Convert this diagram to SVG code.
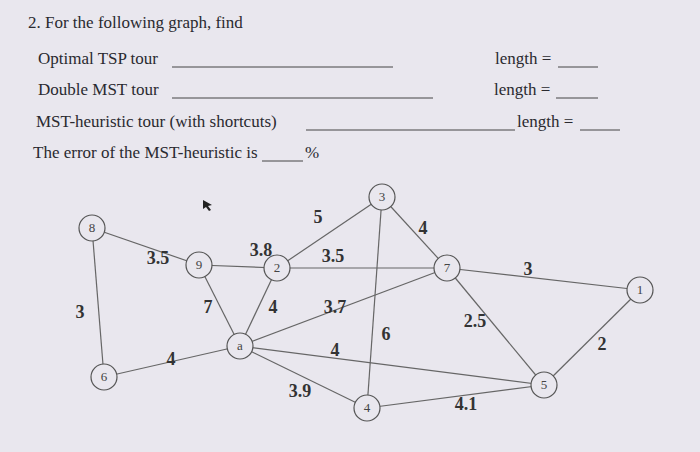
<svg xmlns="http://www.w3.org/2000/svg" width="700" height="452" viewBox="0 0 700 452">
<style>
.t{font-family:"Liberation Serif",serif;font-size:17px;fill:#2a2a30}
.u{stroke:#444;stroke-width:1}
.n circle{fill:#e9e7ee;stroke:#555;stroke-width:1.2}
.n text{font-family:"Liberation Serif",serif;font-size:13px;fill:#444;text-anchor:middle}
#edges line{stroke:#666;stroke-width:1.2}
.w{font-family:"Liberation Serif",serif;font-size:18px;font-weight:bold;fill:#333;text-anchor:middle}
</style>
<rect width="700" height="452" fill="#e9e7ee"/>
<text class="t" x="28" y="28">2. For the following graph, find</text>
<text class="t" x="38" y="64">Optimal TSP tour</text>
<line class="u" x1="172" y1="67" x2="393" y2="67"/>
<text class="t" x="495" y="64">length =</text>
<line class="u" x1="558" y1="67" x2="598" y2="67"/>
<text class="t" x="38" y="95">Double MST tour</text>
<line class="u" x1="172" y1="98" x2="433" y2="98"/>
<text class="t" x="494" y="95">length =</text>
<line class="u" x1="556" y1="98" x2="598" y2="98"/>
<text class="t" x="36" y="127">MST-heuristic tour (with shortcuts)</text>
<line class="u" x1="306" y1="130" x2="515" y2="130"/>
<text class="t" x="517" y="127">length =</text>
<line class="u" x1="580" y1="130" x2="620" y2="130"/>
<text class="t" x="33" y="158">The error of the MST-heuristic is</text>
<line class="u" x1="262" y1="161" x2="303" y2="161"/>
<text class="t" x="305" y="158">%</text>
<polygon points="203,200 212,205 208,206 211,210 209,211 206,207 203,209" fill="#222"/>
<g id="edges">
<line x1="92" y1="228" x2="199" y2="265"/>
<line x1="92" y1="228" x2="104" y2="377"/>
<line x1="199" y1="265" x2="277" y2="268"/>
<line x1="199" y1="265" x2="240" y2="346"/>
<line x1="277" y1="268" x2="240" y2="346"/>
<line x1="277" y1="268" x2="382" y2="197"/>
<line x1="277" y1="268" x2="447" y2="268"/>
<line x1="382" y1="197" x2="447" y2="268"/>
<line x1="382" y1="197" x2="367" y2="408"/>
<line x1="240" y1="346" x2="104" y2="377"/>
<line x1="240" y1="346" x2="447" y2="268"/>
<line x1="240" y1="346" x2="544" y2="385"/>
<line x1="240" y1="346" x2="367" y2="408"/>
<line x1="367" y1="408" x2="544" y2="385"/>
<line x1="447" y1="268" x2="640" y2="290"/>
<line x1="447" y1="268" x2="544" y2="385"/>
<line x1="544" y1="385" x2="640" y2="290"/>
</g>
<g id="weights">
<text class="w" x="158" y="264">3.5</text>
<text class="w" x="80" y="318">3</text>
<text class="w" x="261" y="256">3.8</text>
<text class="w" x="208" y="313">7</text>
<text class="w" x="273" y="313">4</text>
<text class="w" x="318" y="223">5</text>
<text class="w" x="333" y="262">3.5</text>
<text class="w" x="335" y="313">3.7</text>
<text class="w" x="171" y="365">4</text>
<text class="w" x="335" y="356">4</text>
<text class="w" x="300" y="397">3.9</text>
<text class="w" x="386" y="340">6</text>
<text class="w" x="423" y="234">4</text>
<text class="w" x="528" y="275">3</text>
<text class="w" x="475" y="327">2.5</text>
<text class="w" x="602" y="350">2</text>
<text class="w" x="466" y="410">4.1</text>
</g>
<g id="n8" class="n"><circle cx="92" cy="228" r="13"/><text x="92" y="232">8</text></g>
<g id="n9" class="n"><circle cx="199" cy="265" r="13"/><text x="199" y="269">9</text></g>
<g id="n2" class="n"><circle cx="277" cy="268" r="13"/><text x="277" y="272">2</text></g>
<g id="na" class="n"><circle cx="240" cy="346" r="13"/><text x="240" y="350">a</text></g>
<g id="n6" class="n"><circle cx="104" cy="377" r="13"/><text x="104" y="381">6</text></g>
<g id="n3" class="n"><circle cx="382" cy="197" r="13"/><text x="382" y="201">3</text></g>
<g id="n7" class="n"><circle cx="447" cy="268" r="13"/><text x="447" y="272">7</text></g>
<g id="n1" class="n"><circle cx="640" cy="290" r="13"/><text x="640" y="294">1</text></g>
<g id="n5" class="n"><circle cx="544" cy="385" r="13"/><text x="544" y="389">5</text></g>
<g id="n4" class="n"><circle cx="367" cy="408" r="13"/><text x="367" y="412">4</text></g>
</svg>
